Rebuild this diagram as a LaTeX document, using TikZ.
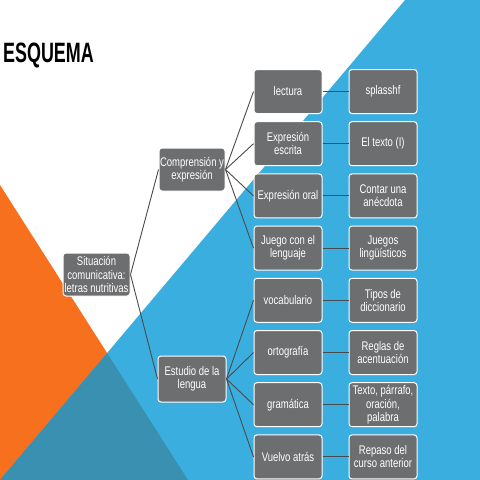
\documentclass[tikz,border=0pt]{standalone}
\usepackage{fontspec}
\setmainfont{Liberation Sans}
\newfontfamily\boxfont[FakeStretch=0.76]{Liberation Sans}
\newfontfamily\titlefont[FakeStretch=0.64]{Liberation Sans}
\definecolor{slideblue}{HTML}{3AAFDF}
\definecolor{slideorange}{HTML}{F6701E}
\definecolor{slideteal}{HTML}{3A90B1}
\definecolor{boxgray}{HTML}{6D6E70}
\definecolor{linkgray}{HTML}{4A4B4D}

\begin{document}
\begin{tikzpicture}[x=1pt, y=-1pt,
    topic/.style ={rectangle, rounded corners=3pt, fill=boxgray, draw=white, line width=1pt,
        text=white, font=\boxfont\fontsize{12.5}{13.2}\selectfont, align=center,
        inner sep=1pt, minimum width=68pt, minimum height=44pt},
    link/.style ={draw=linkgray, line width=0.9pt}]
   \useasboundingbox (0,0) rectangle (480,480);
   \fill[white] (0,0) rectangle (480,480);
   \fill[slideorange] (0,185) -- (188,480) -- (0,480) -- cycle;
   \fill[slideblue] (405,0) -- (480,0) -- (480,480) -- (0,480) -- cycle;
   \begin{scope}
     \clip (405,0) -- (480,0) -- (480,480) -- (0,480) -- cycle;
     \fill[slideteal] (0,185) -- (188,480) -- (0,480) -- cycle;
   \end{scope}

   \node[anchor=base west, inner sep=0pt, font=\titlefont\bfseries\fontsize{28}{30}\selectfont]
      (title) at (3,62) {ESQUEMA};

   \node[topic, minimum width=67pt, minimum height=43pt] (S) at (96.5,274.5) {Situación\\comunicativa:\\letras nutritivas};
   \node[topic, minimum width=66pt, minimum height=43pt] (C) at (192,169.5) {Comprensión y\\expresión};
   \node[topic, minimum height=46pt] (E) at (192,379) {Estudio de la\\lengua};

   \node[topic] (C1) at (288,91.5)  {lectura};
   \node[topic] (C2) at (288,143.7) {Expresión\\escrita};
   \node[topic] (C3) at (288,195.9) {Expresión oral};
   \node[topic] (C4) at (288,248.1) {Juego con el\\lenguaje};
   \node[topic] (E1) at (288,300.3) {vocabulario};
   \node[topic] (E2) at (288,352.5) {ortografía};
   \node[topic] (E3) at (288,404.7) {gramática};
   \node[topic] (E4) at (288,456.9) {Vuelvo atrás};

   \node[topic] (R1) at (383,91.5)  {splasshf};
   \node[topic] (R2) at (383,143.7) {El texto (I)};
   \node[topic] (R3) at (383,195.9) {Contar una\\anécdota};
   \node[topic] (R4) at (383,248.1) {Juegos\\lingüísticos};
   \node[topic] (R5) at (383,300.3) {Tipos de\\diccionario};
   \node[topic] (R6) at (383,352.5) {Reglas de\\acentuación};
   \node[topic] (R7) at (383,404.7) {Texto, párrafo,\\oración,\\palabra};
   \node[topic] (R8) at (383,456.9) {Repaso del\\curso anterior};

   \draw[link] (S.east) to (C.west);
   \draw[link] (S.east) to (E.west);
   \foreach \n in {C1,C2,C3,C4}
     \draw[link] (C.east) to (\n.west);
   \foreach \n in {E1,E2,E3,E4}
     \draw[link] (E.east) to (\n.west);
   \foreach \a/\b in {C1/R1,C2/R2,C3/R3,C4/R4,E1/R5,E2/R6,E3/R7,E4/R8}
     \draw[link] (\a.east) to (\b.west);
 \end{tikzpicture}
\end{document}
